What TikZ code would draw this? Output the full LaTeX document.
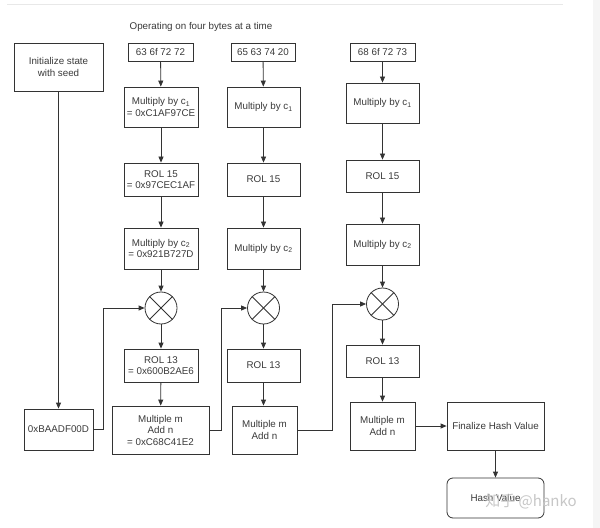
\documentclass[tikz,border=0pt]{standalone}
\usepackage{fontspec}
\setmainfont{Liberation Sans}
\newfontfamily\cjkfont{Noto Sans CJK SC}
\usetikzlibrary{arrows.meta}
\definecolor{ln}{HTML}{333333}
\definecolor{txt}{HTML}{3A3A3A}
\begin{document}
\begin{tikzpicture}[x=1bp,y=-1bp,
  every node/.style={font=\fontsize{9.8bp}{11.5bp}\selectfont, text=txt, inner sep=0pt, align=center},
  box/.style={draw=ln, line width=0.8bp, rectangle},
  xorc/.style={draw=ln, line width=0.8bp, circle, minimum size=32bp},
  conn/.style={draw=ln, line width=0.8bp, -{Triangle[width=5bp,length=6bp]}},
  plain/.style={draw=ln, line width=0.8bp}]
\useasboundingbox (0,0) rectangle (600,528);
\fill[white] (0,0) rectangle (600,528);
\fill[black!4] (593,0) rectangle (600,528);
\draw[black!9, line width=0.8bp] (7,4) -- (563,4);

\node (title) at (201,27) {Operating on four bytes at a time};

\node[box, minimum width=89bp, minimum height=48bp] (init) at (58.5,67) {Initialize state\\with seed};
\node[box, minimum width=69bp, minimum height=41bp] (seed) at (58.5,429.5) {0xBAADF00D};

% column 1
\node[box, minimum width=65bp, minimum height=18bp] (in1) at (160.5,52) {63 6f 72 72};
\node[box, minimum width=74bp, minimum height=40bp] (ma1) at (161,107) {Multiply by c\textsubscript{1}\\= 0xC1AF97CE};
\node[box, minimum width=74bp, minimum height=33bp] (ra1) at (161,179.5) {ROL 15\\= 0x97CEC1AF};
\node[box, minimum width=74bp, minimum height=41bp] (mb1) at (161,248.5) {Multiply by c\textsubscript{2}\\= 0x921B727D};
\node[xorc] (x1) at (161,308) {};
\node[box, minimum width=74bp, minimum height=33bp] (rb1) at (161,365.5) {ROL 13\\= 0x600B2AE6};
\node[box, minimum width=97bp, minimum height=48bp] (mm1) at (160.5,430) {Multiple m\\Add n\\= 0xC68C41E2};

% column 2
\node[box, minimum width=64bp, minimum height=18bp] (in2) at (263,52) {65 63 74 20};
\node[box, minimum width=73bp, minimum height=40bp] (ma2) at (263.5,107) {Multiply by c\textsubscript{1}};
\node[box, minimum width=73bp, minimum height=33bp] (ra2) at (263.5,179.5) {ROL 15};
\node[box, minimum width=73bp, minimum height=41bp] (mb2) at (263.5,248.5) {Multiply by c\textsubscript{2}};
\node[xorc] (x2) at (263.5,308) {};
\node[box, minimum width=73bp, minimum height=33bp] (rb2) at (263.5,365.5) {ROL 13};
\node[box, minimum width=65bp, minimum height=48bp] (mm2) at (264.5,430) {Multiple m\\Add n};

% column 3
\node[box, minimum width=65bp, minimum height=18bp] (in3) at (382.5,52) {68 6f 72 73};
\node[box, minimum width=73bp, minimum height=40bp] (ma3) at (382.5,103) {Multiply by c\textsubscript{1}};
\node[box, minimum width=73bp, minimum height=32bp] (ra3) at (382.5,176) {ROL 15};
\node[box, minimum width=73bp, minimum height=41bp] (mb3) at (382.5,244.5) {Multiply by c\textsubscript{2}};
\node[xorc] (x3) at (382.5,304) {};
\node[box, minimum width=73bp, minimum height=32bp] (rb3) at (382.5,361) {ROL 13};
\node[box, minimum width=65bp, minimum height=48bp] (mm3) at (382.5,426) {Multiple m\\Add n};

\node[box, minimum width=97bp, minimum height=48bp] (fin) at (495.5,426) {Finalize Hash Value};
\node[box, rounded corners=6bp, minimum width=97bp, minimum height=40bp] (hash) at (495.5,498) {Hash Value};

% crosses in xor circles
\foreach \c in {x1,x2,x3}{
  \draw[plain] (\c.45) -- (\c.225);
  \draw[plain] (\c.135) -- (\c.315);
}

% vertical chains
\foreach \a/\b in {in1/ma1, ma1/ra1, ra1/mb1, mb1/x1, x1/rb1, rb1/mm1,
                   in2/ma2, ma2/ra2, ra2/mb2, mb2/x2, x2/rb2,
                   in3/ma3, ma3/ra3, ra3/mb3, mb3/x3, x3/rb3, rb3/mm3}{
  \draw[conn] (\a) -- (\b);
}
\draw[conn] (rb2.south) -- (mm2.north -| rb2.south);
\draw[conn] (init) -- (seed);

% feedback connections
\draw[conn] (seed.east) -- ++(10,0) |- (x1.west);
\draw[conn] (mm1.east) -- ++(12,0) |- (x2.west);
\draw[conn] (mm2.east) -- ++(35,0) |- (x3.west);
\draw[conn] (mm3) -- (fin);
\draw[conn] (fin) -- (hash);

% watermark
\node[text=black!22, font=\cjkfont\fontsize{15bp}{16bp}\selectfont] (wm) at (531,501) {知乎 @hanko};
\end{tikzpicture}
\end{document}
